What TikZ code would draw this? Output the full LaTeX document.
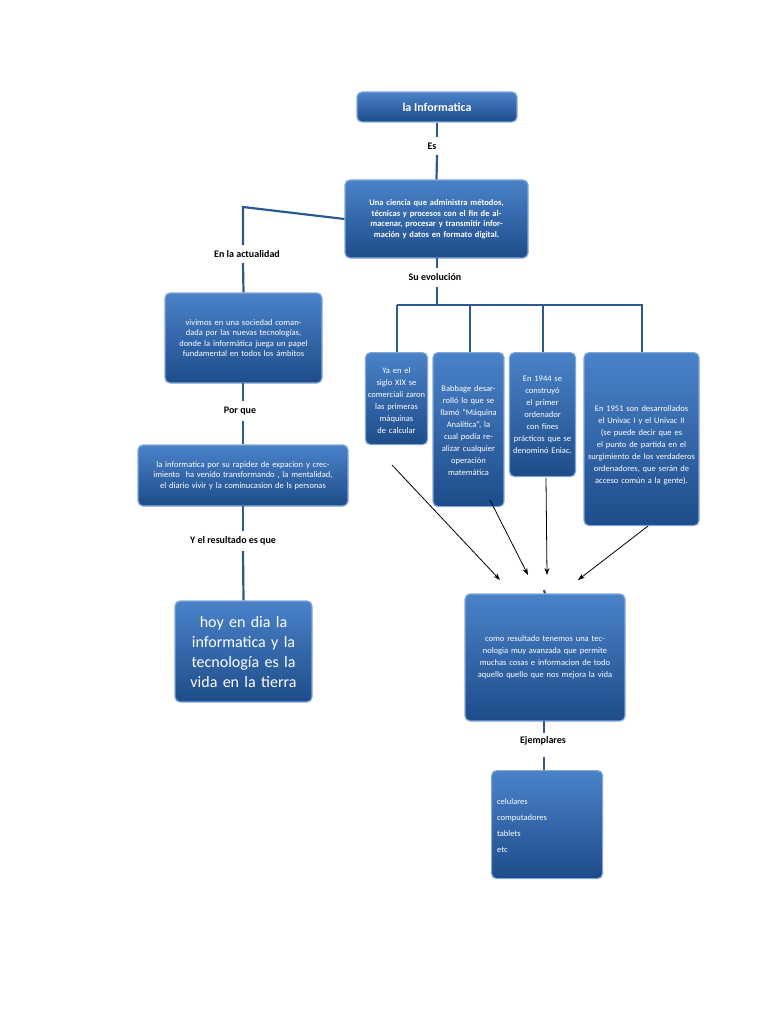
\documentclass[tikz,border=0pt]{standalone}
\usepackage{fontspec}
\setmainfont{Carlito}
\usetikzlibrary{arrows.meta}
\definecolor{bfill}{HTML}{2E62A8}
\definecolor{btop}{HTML}{4A82C8}
\definecolor{bbot}{HTML}{1E4C8A}
\definecolor{bline}{HTML}{2D5A8E}
\begin{document}
\begin{tikzpicture}[x=1pt,y=-1pt,
 box/.style={draw=btop!70!white,line width=1.2pt,rounded corners=5pt,top color=btop,bottom color=bbot,text=white,font=\bfseries\fontsize{8.5}{10.5}\selectfont,align=center,inner sep=2pt},
 lab/.style={font=\bfseries\fontsize{10}{12}\selectfont,text=black},
 con/.style={draw=bline,line width=2.2pt},
 arr/.style={draw=black,line width=0.8pt,-{Stealth[length=7pt,width=5pt]}}]
\useasboundingbox (0,0) rectangle (768,1024);
% boxes
\node[box,minimum width=160,minimum height=30,font=\bfseries\fontsize{12}{14}\selectfont] (t) at (437,107) {la Informatica};
\node[box,minimum width=183,minimum height=78,text width=176] (d) at (436.5,219) {Una ciencia que administra métodos, técnicas y procesos con el fin de almacenar, procesar y transmitir información y datos en formato digital.};
\node[box,minimum width=157,minimum height=90,text width=145,font=\fontsize{8.5}{10.5}\selectfont] (b1) at (243.5,338) {vivimos en una sociedad comandada por las nuevas tecnologías, donde la informática juega un papel fundamental en todos los ámbitos};
\node[box,minimum width=210,minimum height=61,text width=205,font=\fontsize{8.5}{10.5}\selectfont] (b2) at (243,475.5) {la informatica por su rapidez de expacion y crecimiento\ \ ha venido transformando , la mentalidad,\ el diario vivir\ y la cominucasion de ls personas};
\node[box,minimum width=137,minimum height=101,text width=132,font=\fontsize{16}{20}\selectfont] (b3) at (243.5,651.5) {hoy en dia la informatica y la tecnología es la vida en la tierra};
\node[box,minimum width=61,minimum height=92,text width=58,font=\fontsize{8.5}{12}\selectfont,anchor=north] (ea) at (396.5,352) {\\[-2pt]Ya en el siglo XIX se comerciali zaron las primeras máquinas de calcular};
\node[box,minimum width=71,minimum height=154,text width=66,font=\fontsize{8.5}{12}\selectfont,anchor=north] (eb) at (468.5,352) {\\[-4pt]Babbage desarrolló lo que se llamó "Máquina Analítica", la cual podía realizar cualquier operación matemática};
\node[box,minimum width=65,minimum height=124,text width=62,font=\fontsize{8.5}{12}\selectfont,anchor=north] (ec) at (542.5,352) {En 1944 se construyó el primer ordenador con fines prácticos que se denominó Eniac.};
\node[box,minimum width=115,minimum height=173,text width=108,font=\fontsize{8.5}{12}\selectfont,anchor=north] (ed) at (641.5,352) {\\[6pt]En 1951 son desarrollados el Univac I y el Univac II (se puede decir que es el punto de partida en el surgimiento de los verdaderos ordenadores, que serán de acceso común a la gente).};
\node[box,minimum width=160,minimum height=127,text width=155,font=\fontsize{8.5}{12}\selectfont] (r) at (545,657.5) {como resultado tenemos una tecnologia muy avanzada que permite\ \ muchas cosas e informacion de todo aquello quello que nos mejora la vida};
\node[box,minimum width=111,minimum height=108,text width=100,align=left,font=\fontsize{8.5}{16}\selectfont,anchor=north west] (x) at (491,770) {\\[-8pt]celulares\\computadores\\tablets\\etc};
% labels
\node[lab] (les) at (432,146) {Es};
\node[lab] (lact) at (247,254) {En la actualidad};
\node[lab] (lev) at (435,277) {Su evolución};
\node[lab] (lpq) at (240,411) {Por que};
\node[lab] (lyr) at (233,541) {Y el resultado es que};
\node[lab] (lej) at (543,741) {Ejemplares};
\coordinate (bus) at (437,305);
% connectors
\draw[con] (t.south) -- (437,137);
\draw[con] (437,155) -- (d.north);
\draw[con] (d.west) -- (243,207) -- (243,245);
\draw[con] (243,263) -- (b1.north);
\draw[con] (437,258) -- (437,268);
\draw[con] (437,287) -- (bus);
\draw[con] (397,305) -- (643,305);
\draw[con] (397,305) -- (397,352);
\draw[con] (470,305) -- (470,352);
\draw[con] (543,305) -- (543,352);
\draw[con] (642,305) -- (642,352);
\draw[con] (243,383) -- (243,401);
\draw[con] (243,421) -- (b2.north);
\draw[con] (243,506) -- (243,531);
\draw[con] (243,551) -- (b3.north);
\draw[con] (544,590) -- (r.north);
\draw[con] (544,721) -- (544,733);
\draw[con] (544,757) -- (544,770);
% arrows
\draw[arr] (392,465) -- (500,580);
\draw[arr] (490,500) -- (528,575);
\draw[arr] (546,478) -- (547,575);
\draw[arr] (648,526) -- (578,580);
\end{tikzpicture}
\end{document}
